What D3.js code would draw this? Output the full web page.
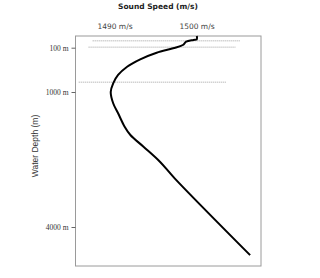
<!DOCTYPE html>
<html>
<head>
<meta charset="utf-8">
<script src="https://cdn.jsdelivr.net/npm/d3@7"></script>
<style>
  body { margin: 0; background: #fff; }
</style>
</head>
<body>
<div id="chart"></div>
<script>
// sound speed profile (m/s) vs depth (m)
const speeds = [1500.1, 1500.1, 1499.7, 1498.8, 1498.4, 1497.2, 1495.2, 1493.2, 1491.6, 1490.5, 1489.9, 1489.6, 1489.9, 1490.5, 1491.3, 1492.0, 1493.6, 1495.6, 1497.4, 1506.6];
const depths = [0, 28, 34, 49, 77, 112, 202, 336, 486, 654, 823, 1000, 1251, 1473, 1771, 1956, 2216, 2549, 2918, 4620];

// dotted layer markers
const layerDepths = [37, 91, 790];
const layerFrom = [1487.4, 1486.9, 1485.7];
const layerTo = [1505.4, 1504.8, 1503.7];

const speedTicks = [1490, 1500];
const depthTicks = [100, 1000, 4000];

const dims = { width: 320, height: 278, left: 75.5, right: 261, top: 36, bottom: 266 };

const svg = d3.select('#chart')
    .append('svg')
    .attr('width', dims.width)
    .attr('height', dims.height)

const x = d3.scaleLinear()
    .domain([1490, 1500])
    .range([114, 196])

// depth axis is stretched near the surface
const y = d3.scaleLinear()
    .domain([0, 100, 1000, 4000, 4860])
    .range([dims.top, 47.7, 92, 227, dims.bottom])

// frame
svg.append('rect')
    .attr('x', dims.left)
    .attr('y', dims.top)
    .attr('width', dims.right - dims.left)
    .attr('height', dims.bottom - dims.top)
    .attr('fill', 'none')
    .attr('stroke', '#9a9a9a')

// layer lines
svg.selectAll('line.layer')
    .data(layerDepths)
    .join('line')
    .attr('class', 'layer')
    .attr('x1', (d, i) => x(layerFrom[i]))
    .attr('x2', (d, i) => x(layerTo[i]))
    .attr('y1', d => y(d) + 0.5)
    .attr('y2', d => y(d) + 0.5)
    .attr('stroke', '#888')
    .attr('stroke-width', 0.8)
    .attr('stroke-dasharray', '1,1')

// the profile
const line = d3.line()
    .x(d => x(d[0]))
    .y(d => y(d[1]))
    .curve(d3.curveCatmullRom)

svg.append('path')
    .datum(speeds.map((s, i) => [s, depths[i]]))
    .attr('d', line)
    .attr('fill', 'none')
    .attr('stroke', '#000')
    .attr('stroke-width', 2)

// y axis ticks and labels
const yAxis = d3.axisLeft(y)
    .tickValues(depthTicks)
    .tickSize(4)
    .tickPadding(3)
    .tickFormat(d => d + ' m')

svg.append('g')
    .attr('transform', `translate(${dims.left}, 0)`)
    .call(yAxis)
    .call(g => g.select('.domain').remove())
    .call(g => g.selectAll('line').attr('stroke', '#666'))
    .call(g => g.selectAll('text')
        .attr('font-family', 'Liberation Serif, serif')
        .attr('font-size', 7.5)
        .attr('fill', '#333'))

// x tick labels along the top, no tick marks
svg.selectAll('text.xtick')
    .data(speedTicks)
    .join('text')
    .attr('class', 'xtick')
    .attr('x', d => x(d) + 1)
    .attr('y', 29)
    .attr('text-anchor', 'middle')
    .attr('font-family', 'DejaVu Sans, sans-serif')
    .attr('font-size', 7.5)
    .attr('fill', '#444')
    .text(d => d + ' m/s')

// titles
svg.append('text')
    .attr('x', 158)
    .attr('y', 9)
    .attr('text-anchor', 'middle')
    .attr('font-family', 'DejaVu Sans, sans-serif')
    .attr('font-weight', 'bold')
    .attr('font-size', 7.5)
    .attr('fill', '#222')
    .text('Sound Speed (m/s)')

svg.append('text')
    .attr('transform', 'translate(38, 146) rotate(-90)')
    .attr('text-anchor', 'middle')
    .attr('font-family', 'Liberation Sans, sans-serif')
    .attr('font-size', 8.5)
    .attr('fill', '#333')
    .text('Water Depth (m)')
</script>
</body>
</html>
